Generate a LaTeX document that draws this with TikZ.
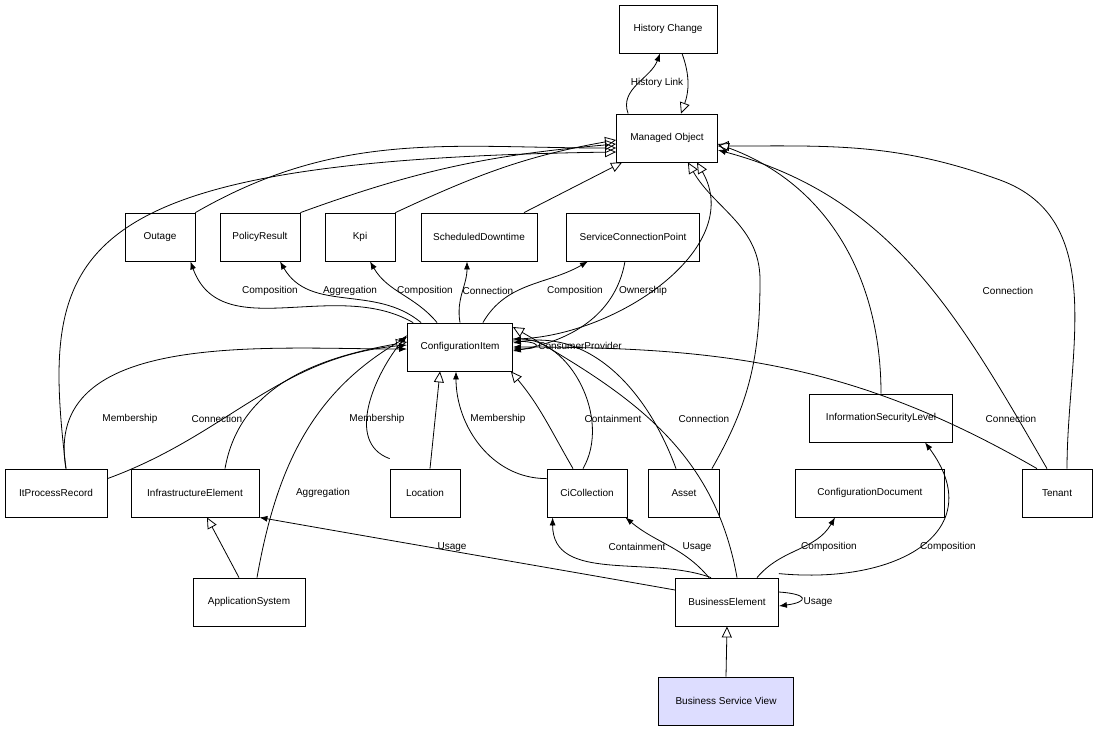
\documentclass[tikz,border=0pt]{standalone}
\usepackage{fontspec}
\setmainfont{Liberation Sans}
\usetikzlibrary{arrows.meta,positioning}
\definecolor{viewfill}{RGB}{221,221,255}
\tikzset{
  cls/.style={draw,thick,minimum height=48pt,inner sep=0pt,font=\fontsize{10}{12}\selectfont},
  gen/.style={-{Triangle[open,length=11pt,width=10pt]}},
  assoc/.style={-{Latex[length=8pt,width=6pt]}},
  lbl/.style={font=\fontsize{10}{12}\selectfont,inner sep=1pt}
}
\begin{document}
\begin{tikzpicture}[x=1pt,y=-1pt,thick]
  \useasboundingbox (0,0) rectangle (1099,732);
  % classes
  \node[cls,minimum width=98pt] (hist) at (668,29) {History Change};
  \node[cls,minimum width=101pt] (mo) at (667,138) {Managed Object};
  \node[cls,minimum width=70pt] (outage) at (160,237) {Outage};
  \node[cls,minimum width=80pt] (policy) at (260,237) {PolicyResult};
  \node[cls,minimum width=70pt] (kpi) at (360,237) {Kpi};
  \node[cls,minimum width=116pt] (sched) at (479,237) {ScheduledDowntime};
  \node[cls,minimum width=133pt] (scp) at (633,237) {ServiceConnectionPoint};
  \node[cls,minimum width=105pt] (ci) at (460,347) {ConfigurationItem};
  \node[cls,minimum width=102pt] (itpr) at (56,493) {ItProcessRecord};
  \node[cls,minimum width=128pt] (infra) at (195,493) {InfrastructureElement};
  \node[cls,minimum width=70pt] (loc) at (425,493) {Location};
  \node[cls,minimum width=80pt] (cicoll) at (587,493) {CiCollection};
  \node[cls,minimum width=71pt] (asset) at (684,493) {Asset};
  \node[cls,minimum width=143pt] (isl) at (881,418) {InformationSecurityLevel};
  \node[cls,minimum width=149pt] (cdoc) at (870,493) {ConfigurationDocument};
  \node[cls,minimum width=70pt] (tenant) at (1057,493) {Tenant};
  \node[cls,minimum width=112pt] (appsys) at (249,602) {ApplicationSystem};
  \node[cls,minimum width=103pt] (be) at (727,602) {BusinessElement};
  \node[cls,minimum width=135pt,fill=viewfill] (bsv) at (726,701) {Business Service View};

  % history
  \draw[assoc] (mo.north west) ++(12,0) to[out=110,in=-110] ([xshift=-8pt]hist.south);
  \draw[gen] (hist.south) ++(14,0) to[out=-70,in=70] ([xshift=14pt]mo.north);
  \node[lbl] (lHist) at (657,83) {History Link};

  % generalisations to Managed Object
  \draw[gen] (outage.north east) to[out=30,in=180] ([yshift=-10pt]mo.west);
  \draw[gen] (policy.north east) to[out=20,in=185] ([yshift=-6pt]mo.west);
  \draw[gen] (kpi.north east) to[out=25,in=190] ([yshift=-2pt]mo.west);
  \draw[gen] (sched.north) ++(45,0) -- ([xshift=6pt]mo.south west);
  \draw[gen] (itpr.north) ++(10,0) .. controls (40,250) and (60,160) .. ([yshift=-14pt]mo.west);
  \draw[gen] (ci.east) ++(0,-8) to[out=0,in=-60] ([xshift=30pt]mo.south);
  \draw[gen] (asset.north east) ++(-8,0) to[out=60,in=-90] (760,280) to[out=90,in=-60] ([xshift=-30pt]mo.south east);
  \draw[gen] (isl.north) to[out=90,in=-20] ([yshift=-6pt]mo.east);
  \draw[gen] (tenant.north) ++(10,0) to[out=90,in=-20] (1000,180) to[out=160,in=0] ([yshift=-8pt]mo.east);
  \draw[assoc] (tenant.north) ++(-10,0) to[out=120,in=-15] ([yshift=-12pt]mo.east);
  \node[lbl] (lTenMo) at (1008,291) {Connection};

  % associations from ConfigurationItem
  \draw[assoc] ([xshift=6pt]ci.north west) to[out=150,in=-70] ([xshift=-5pt]outage.south east);
  \draw[assoc] ([xshift=14pt]ci.north west) to[out=140,in=-60] ([xshift=20pt]policy.south);
  \draw[assoc] ([xshift=30pt]ci.north west) to[out=130,in=-60] ([xshift=10pt]kpi.south);
  \draw[assoc] (ci.north) to[out=100,in=-90] ([xshift=-12pt]sched.south);
  \draw[assoc] ([xshift=-30pt]ci.north east) to[out=60,in=-150] ([xshift=-45pt]scp.south);
  \draw[assoc] ([xshift=-8pt]scp.south) to[out=-100,in=10] ([yshift=-4pt]ci.east);
  \draw[assoc] ([yshift=6pt]ci.east) .. controls +(30,0) and +(30,0) .. ([yshift=-2pt]ci.east);
  \node[lbl] (lOut) at (270,291) {Composition};
  \node[lbl] (lPol) at (350,291) {Aggregation};
  \node[lbl] (lKpi) at (425,291) {Composition};
  \node[lbl] (lSch) at (488,291) {Connection};
  \node[lbl] (lScp) at (575,291) {Composition};
  \node[lbl] (lOwn) at (643,291) {Ownership};
  \node[lbl] (lCP) at (580,346) {ConsumerProvider};

  % associations and generalisations into ConfigurationItem (lower side)
  \draw[assoc] ([xshift=10pt]itpr.north) to[out=100,in=180] ([yshift=-2pt]ci.west);
  \draw[assoc] (itpr.north east) ++(0,10) to[out=20,in=185] ([yshift=2pt]ci.west);
  \draw[gen] ([xshift=30pt]infra.north) to[out=80,in=190] ([yshift=5pt]ci.west);
  \draw[assoc] ([xshift=8pt]appsys.north) to[out=80,in=210] ([yshift=10pt]ci.west);
  \draw[assoc] (loc.north west) ++(0,-10) to[out=160,in=230] ([yshift=12pt]ci.west);
  \draw[gen] ([xshift=5pt]loc.north) -- ([xshift=-20pt]ci.south);
  \draw[assoc] (cicoll.north west) ++(0,10) to[out=180,in=-90] ([xshift=-4pt]ci.south);
  \draw[gen] ([xshift=-14pt]cicoll.north) to[out=120,in=-50] ([xshift=-2pt]ci.south east);
  \draw[assoc] ([xshift=-10pt]cicoll.north) ++(6,0) to[out=60,in=0] ([yshift=8pt]ci.east);
  \draw[assoc] ([xshift=-8pt]asset.north) to[out=110,in=10] ([yshift=4pt]ci.east);
  \draw[assoc] ([xshift=-20pt]tenant.north) to[out=150,in=0] ([yshift=0pt]ci.east);
  \draw[gen] ([xshift=10pt]be.north) to[out=100,in=-30] ([yshift=20pt]ci.east);
  \node[lbl] (lItM) at (130,419) {Membership};
  \node[lbl] (lItC) at (217,419) {Connection};
  \node[lbl] (lApp) at (323,493) {Aggregation};
  \node[lbl] (lLoc) at (377,419) {Membership};
  \node[lbl] (lCiM) at (498,419) {Membership};
  \node[lbl] (lCiC) at (613,419) {Containment};
  \node[lbl] (lAs) at (704,419) {Connection};
  \node[lbl] (lTen) at (1011,419) {Connection};

  % lower part
  \draw[gen] ([xshift=-10pt]appsys.north) -- ([xshift=12pt]infra.south);
  \draw[assoc] (be.west) ++(0,-12) to[out=170,in=-10] (infra.south east);
  \draw[assoc] ([xshift=-16pt]be.north) to[out=160,in=-90] ([xshift=6pt]cicoll.south west);
  \draw[assoc] ([xshift=-18pt]be.north) to[out=130,in=-40] ([xshift=-2pt]cicoll.south east);
  \draw[assoc] ([xshift=30pt]be.north) to[out=50,in=-120] ([xshift=-35pt]cdoc.south);
  \draw[assoc] ([yshift=4pt]be.north east) .. controls (900,585) and (990,530) .. ([xshift=44pt]isl.south);
  \draw[assoc] ([yshift=10pt]be.east) .. controls +(30,2) and +(30,-4) .. ([yshift=-4pt]be.east);
  \draw[gen] (bsv.north) -- (be.south);
  \node[lbl] (lUsI) at (452,547) {Usage};
  \node[lbl] (lCont) at (637,547) {Containment};
  \node[lbl] (lUsC) at (697,547) {Usage};
  \node[lbl] (lCdoc) at (829,547) {Composition};
  \node[lbl] (lIsl) at (948,547) {Composition};
  \node[lbl] (lSelf) at (818,602) {Usage};
\end{tikzpicture}
\end{document}
